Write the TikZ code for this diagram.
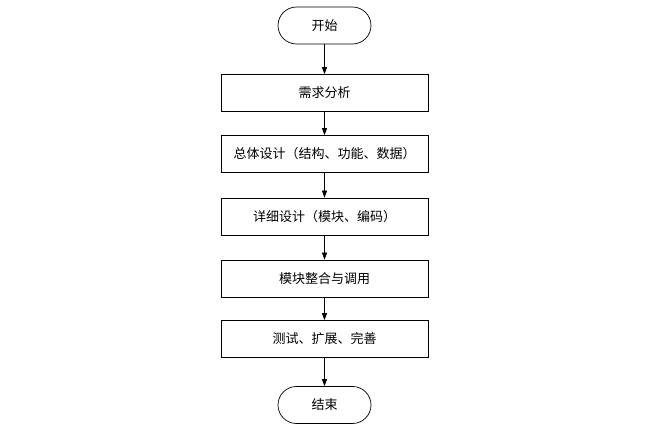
\documentclass[tikz,border=0pt]{standalone}
\usepackage{fontspec}
\setmainfont{Noto Sans CJK SC}
\usetikzlibrary{arrows.meta}
\begin{document}
\begin{tikzpicture}[x=1pt,y=-1pt,
  every node/.style={font=\fontsize{13}{15}\selectfont},
  procbox/.style={draw, line width=0.7pt, minimum width=207pt, minimum height=37pt, inner sep=0pt},
  termbox/.style={draw, line width=0.7pt, minimum width=93pt, minimum height=37pt, rounded corners=18.5pt, inner sep=0pt},
  flow/.style={draw, line width=0.7pt, -{Triangle[length=7pt,width=5pt]}}]
\useasboundingbox (0,0) rectangle (649,433);
\node[termbox] (s) at (324.5,25.5) {开始};
\node[procbox] (b1) at (324.5,93) {需求分析};
\node[procbox] (b2) at (324.5,154) {总体设计（结构、功能、数据）};
\node[procbox] (b3) at (324.5,216.5) {详细设计（模块、编码）};
\node[procbox] (b4) at (324.5,278.5) {模块整合与调用};
\node[procbox] (b5) at (324.5,339) {测试、扩展、完善};
\node[termbox] (e) at (324.5,405) {结束};
\draw[flow] (s) -- (b1);
\draw[flow] (b1) -- (b2);
\draw[flow] (b2) -- (b3);
\draw[flow] (b3) -- (b4);
\draw[flow] (b4) -- (b5);
\draw[flow] (b5) -- (e);
\end{tikzpicture}
\end{document}
